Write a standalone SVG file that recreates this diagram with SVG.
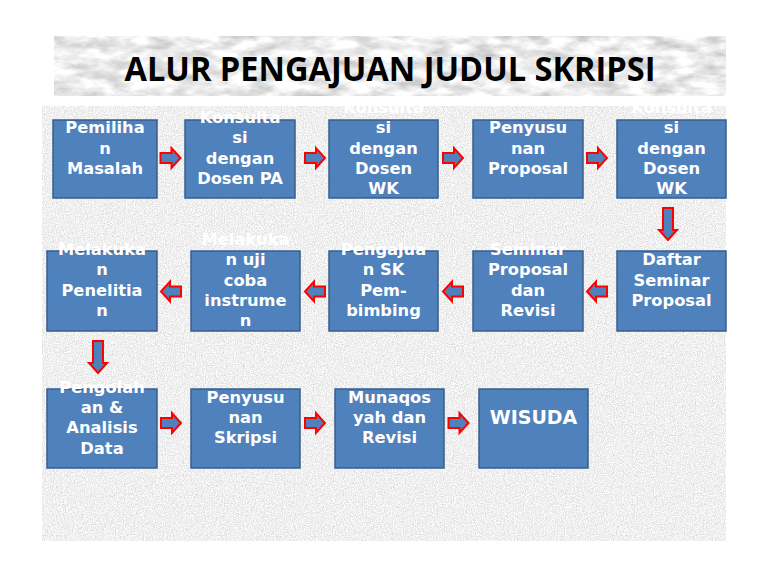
<svg xmlns="http://www.w3.org/2000/svg" width="768" height="576" viewBox="0 0 768 576">
  <defs>
    <filter id="granite" x="0" y="0" width="1" height="1" color-interpolation-filters="sRGB">
      <feTurbulence type="fractalNoise" baseFrequency="0.9" numOctaves="3" seed="3" result="n"/>
      <feColorMatrix type="matrix" values="0.25 0.15 0 0 0.74  0.25 0.15 0 0 0.74  0.25 0.15 0 0 0.74  0 0 0 0 1"/>
    </filter>
    <filter id="marble" x="0" y="0" width="1" height="1" color-interpolation-filters="sRGB">
      <feTurbulence type="fractalNoise" baseFrequency="0.04 0.1" numOctaves="4" seed="7" result="n"/>
      <feColorMatrix type="matrix" values="0.45 0 0 0 0.7  0.45 0 0 0 0.7  0.45 0 0 0 0.7  0 0 0 0 1"/>
    </filter>
    <path id="arrR" d="M-10,-5 H1 V-10 L10,0 L1,10 V5 H-10 Z"/>
    <path id="arrD" d="M-5,-16 H5 V6 H9 L0,16 L-9,6 H-5 Z"/>
    <style>
      .box { fill: #4F81BD; stroke: #385D8A; stroke-width: 1.5; }
      .lbl { fill: #ffffff; font-family: "DejaVu Sans", "Liberation Sans", sans-serif; font-weight: bold; font-size: 16.3px; text-anchor: middle; }
      .big { font-size: 19px; }
      .arr { fill: #4F81BD; stroke: #FF0000; stroke-width: 2; stroke-linejoin: miter; }
      .title { fill: #000000; font-family: "Open Sans", "Liberation Sans", sans-serif; font-weight: bold; font-size: 34px; text-anchor: middle; }
    </style>
  </defs>

  <rect x="0" y="0" width="768" height="576" fill="#ffffff"/>
  <rect x="42" y="106" width="684" height="435" fill="#ebebeb" filter="url(#granite)"/>
  <rect x="54" y="36" width="672" height="60" fill="#e4e4e4" filter="url(#marble)"/>
  <text class="title" x="390" y="81" textLength="531" lengthAdjust="spacingAndGlyphs">ALUR PENGAJUAN JUDUL SKRIPSI</text>

  <g id="connectors">
    <use href="#arrR" class="arr" transform="translate(170.5,158)"/>
    <use href="#arrR" class="arr" transform="translate(315,158)"/>
    <use href="#arrR" class="arr" transform="translate(453,158)"/>
    <use href="#arrR" class="arr" transform="translate(597,158)"/>
    <use href="#arrD" class="arr" transform="translate(668,224)"/>
    <use href="#arrR" class="arr" transform="translate(597,291.5) rotate(180)"/>
    <use href="#arrR" class="arr" transform="translate(453,291.5) rotate(180)"/>
    <use href="#arrR" class="arr" transform="translate(315,291.5) rotate(180)"/>
    <use href="#arrR" class="arr" transform="translate(171,291.5) rotate(180)"/>
    <use href="#arrD" class="arr" transform="translate(98,357)"/>
    <use href="#arrR" class="arr" transform="translate(171,423)"/>
    <use href="#arrR" class="arr" transform="translate(315,423)"/>
    <use href="#arrR" class="arr" transform="translate(458.5,423)"/>
  </g>

  <g id="n1">
    <rect class="box" x="53" y="120" width="104" height="78"/>
    <text class="lbl" x="105"><tspan x="105" y="133.2">Pemiliha</tspan><tspan x="105" y="153.5">n</tspan><tspan x="105" y="173.8">Masalah</tspan></text>
  </g>
  <g id="n2">
    <rect class="box" x="185" y="120" width="110" height="78"/>
    <text class="lbl" x="240"><tspan x="240" y="123">Konsulta</tspan><tspan x="240" y="143.3">si</tspan><tspan x="240" y="163.6">dengan</tspan><tspan x="240" y="184">Dosen PA</tspan></text>
  </g>
  <g id="n3">
    <rect class="box" x="329" y="120" width="109" height="78"/>
    <text class="lbl" x="383.5"><tspan x="383.5" y="113">Konsulta</tspan><tspan x="383.5" y="133.3">si</tspan><tspan x="383.5" y="153.5">dengan</tspan><tspan x="383.5" y="173.8">Dosen</tspan><tspan x="383.5" y="194">WK</tspan></text>
  </g>
  <g id="n4">
    <rect class="box" x="473" y="120" width="110" height="78"/>
    <text class="lbl" x="528"><tspan x="528" y="133.2">Penyusu</tspan><tspan x="528" y="153.5">nan</tspan><tspan x="528" y="173.8">Proposal</tspan></text>
  </g>
  <g id="n5">
    <rect class="box" x="617" y="120" width="109" height="78"/>
    <text class="lbl" x="671.5"><tspan x="671.5" y="113">Konsulta</tspan><tspan x="671.5" y="133.3">si</tspan><tspan x="671.5" y="153.5">dengan</tspan><tspan x="671.5" y="173.8">Dosen</tspan><tspan x="671.5" y="194">WK</tspan></text>
  </g>

  <g id="n6">
    <rect class="box" x="617" y="251" width="109" height="80"/>
    <text class="lbl" x="671.5"><tspan x="671.5" y="265.2">Daftar</tspan><tspan x="671.5" y="285.5">Seminar</tspan><tspan x="671.5" y="305.8">Proposal</tspan></text>
  </g>
  <g id="n7">
    <rect class="box" x="473" y="251" width="110" height="80"/>
    <text class="lbl" x="528"><tspan x="528" y="255">Seminar</tspan><tspan x="528" y="275.3">Proposal</tspan><tspan x="528" y="295.6">dan</tspan><tspan x="528" y="316">Revisi</tspan></text>
  </g>
  <g id="n8">
    <rect class="box" x="329" y="251" width="109" height="80"/>
    <text class="lbl" x="383.5"><tspan x="383.5" y="255">Pengajua</tspan><tspan x="383.5" y="275.3">n SK</tspan><tspan x="383.5" y="295.6">Pem-</tspan><tspan x="383.5" y="316">bimbing</tspan></text>
  </g>
  <g id="n9">
    <rect class="box" x="191" y="251" width="109" height="80"/>
    <text class="lbl" x="245.5"><tspan x="245.5" y="245">Melakuka</tspan><tspan x="245.5" y="265.2">n uji</tspan><tspan x="245.5" y="285.5">coba</tspan><tspan x="245.5" y="305.8">instrume</tspan><tspan x="245.5" y="326">n</tspan></text>
  </g>
  <g id="n10">
    <rect class="box" x="47" y="251" width="110" height="80"/>
    <text class="lbl" x="102"><tspan x="102" y="255">Melakuka</tspan><tspan x="102" y="275.3">n</tspan><tspan x="102" y="295.6">Penelitia</tspan><tspan x="102" y="316">n</tspan></text>
  </g>

  <g id="n11">
    <rect class="box" x="47" y="389" width="110" height="79"/>
    <text class="lbl" x="102"><tspan x="102" y="392.5">Pengolah</tspan><tspan x="102" y="412.8">an &amp;</tspan><tspan x="102" y="433.2">Analisis</tspan><tspan x="102" y="453.5">Data</tspan></text>
  </g>
  <g id="n12">
    <rect class="box" x="191" y="389" width="109" height="79"/>
    <text class="lbl" x="245.5"><tspan x="245.5" y="402.7">Penyusu</tspan><tspan x="245.5" y="423">nan</tspan><tspan x="245.5" y="443.3">Skripsi</tspan></text>
  </g>
  <g id="n13">
    <rect class="box" x="335" y="389" width="109" height="79"/>
    <text class="lbl" x="389.5"><tspan x="389.5" y="402.7">Munaqos</tspan><tspan x="389.5" y="423">yah dan</tspan><tspan x="389.5" y="443.3">Revisi</tspan></text>
  </g>
  <g id="n14">
    <rect class="box" x="479" y="389" width="109" height="79"/>
    <text class="lbl big" x="533.5" y="424">WISUDA</text>
  </g>
</svg>
